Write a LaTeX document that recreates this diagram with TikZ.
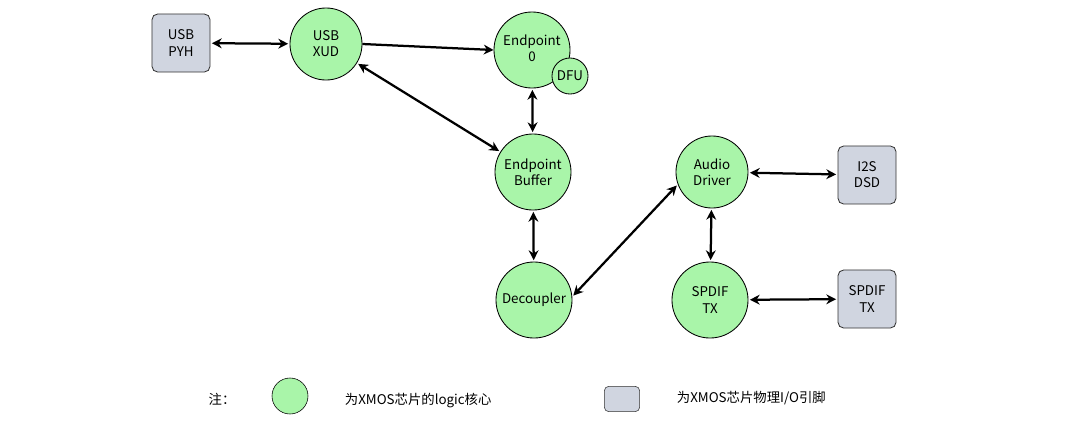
\documentclass[tikz,border=0pt]{standalone}
\usepackage{fontspec}
\setmainfont{Noto Sans CJK SC}
\usetikzlibrary{arrows.meta}
\definecolor{cg}{HTML}{A9F5A9}
\definecolor{bx}{HTML}{D0D5E0}
\begin{document}
\begin{tikzpicture}[x=0.025cm,y=-0.025cm,
  every node/.style={font=\fontsize{9.5}{11.5}\selectfont,align=center},
  cir/.style={circle,draw=black,fill=cg,line width=0.6pt,minimum size=#1*0.05cm,inner sep=0pt},
  box/.style={rectangle,rounded corners=4pt,draw=black!80,fill=bx,line width=0.6pt,minimum width=1.45cm,minimum height=1.45cm,inner sep=0pt},
  ar/.style={line width=1.6pt,{Stealth[length=7pt,width=7pt]}-{Stealth[length=7pt,width=7pt]},shorten <=1pt,shorten >=1pt},
  sa/.style={line width=1.6pt,-{Stealth[length=7pt,width=7pt]}}]
\useasboundingbox (0,0) rectangle (1080,423);
\node[box] (pyh) at (181,43) {USB\\PYH};
\node[cir=36] (xud) at (326,44) {USB\\XUD};
\node[cir=38] (ep0) at (532,50) {Endpoint\\0\vphantom{p}};
\node[cir=18] (dfu) at (570,76) {DFU};
\node[cir=38] (buf) at (533,172) {Endpoint\\Buffer};
\node[cir=38] (dec) at (534,300) {Decoupler};
\node[cir=36] (aud) at (712,172) {Audio\\Driver};
\node[cir=38] (spc) at (710,300) {SPDIF\\TX};
\node[box] (i2s) at (867,175) {I2S\\DSD};
\node[box] (spb) at (867,299) {SPDIF\\TX};
\draw[ar] (pyh) -- (xud);
\draw[sa] (xud.east) -- (ep0.west);
\draw[ar] (xud) -- (buf);
\draw[ar] (ep0) -- (buf);
\draw[ar] (buf) -- (dec);
\draw[ar] (dec.5) -- (aud.200);
\draw[ar] (aud) -- (i2s);
\draw[ar] (aud) -- (spc);
\draw[ar] (spc) -- (spb);
\node (note) at (222,399) {注：};
\node[circle,draw=black,fill=cg,minimum width=0.9cm,minimum height=0.85cm,inner sep=0pt] (lc) at (290,396) {};
\node[anchor=west] (lt) at (340,401) {为XMOS芯片的logic核心};
\node[rectangle,rounded corners=3pt,draw=black!80,fill=bx,minimum width=0.88cm,minimum height=0.63cm,inner sep=0pt] (lb) at (622,399) {};
\node[anchor=west] (lbt) at (672,398) {为XMOS芯片物理I/O引脚};
\end{tikzpicture}
\end{document}
